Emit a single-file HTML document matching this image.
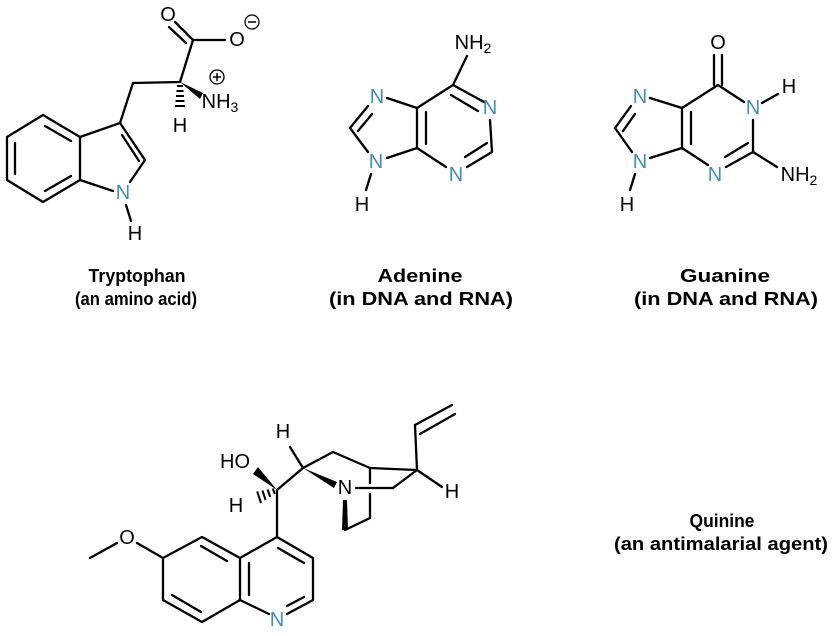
<!DOCTYPE html>
<html><head><meta charset="utf-8"><style>
html,body{margin:0;padding:0;background:#fff;}
svg{display:block;}
text{font-family:"Liberation Sans",sans-serif;}
.a{font-size:20px;fill:#000;text-anchor:middle;dominant-baseline:central;}
.b{fill:#3f8db5;}
.s{font-size:14px;}
.l{font-size:18px;font-weight:bold;text-anchor:middle;fill:#000;}
</style></head><body>
<svg width="832" height="636" viewBox="0 0 832 636" xmlns="http://www.w3.org/2000/svg">
<g stroke="#000" stroke-width="2.3" fill="none" stroke-linecap="round" stroke-linejoin="round">
<!-- Tryptophan -->
<polyline points="43,115 80,137 80,180 43,202 7,180 7,137 43,115"/>
<line x1="45" y1="126" x2="71" y2="141"/>
<line x1="71" y1="176" x2="45" y2="191"/>
<line x1="15" y1="143" x2="15" y2="174"/>
<line x1="80" y1="137" x2="120" y2="123"/>
<line x1="120" y1="123" x2="145" y2="160"/>
<line x1="122" y1="135" x2="139" y2="161"/>
<line x1="145" y1="160" x2="130" y2="182"/>
<line x1="80" y1="180" x2="113" y2="191"/>
<line x1="126" y1="205" x2="131" y2="221"/>
<line x1="120" y1="123" x2="133" y2="83"/>
<line x1="133" y1="83" x2="180" y2="82"/>
<line x1="180" y1="82" x2="193" y2="40"/>
<line x1="193" y1="40" x2="175" y2="22"/>
<line x1="186" y1="43" x2="169" y2="27"/>
<line x1="193" y1="40" x2="225" y2="40"/>
<!-- Adenine -->
<line x1="453" y1="85" x2="467" y2="56"/>
<polyline points="484,102 453,85 417,108 417,148 446,167"/>
<line x1="451" y1="95" x2="478" y2="111"/>
<line x1="426" y1="112" x2="426" y2="144"/>
<line x1="490" y1="120" x2="492" y2="152"/>
<line x1="492" y1="152" x2="467" y2="167"/>
<line x1="487" y1="143" x2="465" y2="157"/>
<line x1="417" y1="108" x2="387" y2="98"/>
<line x1="417" y1="148" x2="387" y2="158"/>
<line x1="368" y1="106" x2="350" y2="128"/>
<line x1="372" y1="114" x2="358" y2="131"/>
<line x1="350" y1="128" x2="368" y2="152"/>
<line x1="371" y1="174" x2="366" y2="190"/>
<!-- Guanine -->
<line x1="714" y1="85" x2="714" y2="55"/>
<line x1="722" y1="85" x2="722" y2="55"/>
<polyline points="744,102 718,85 682,108 682,148 708,165"/>
<line x1="691" y1="112" x2="691" y2="144"/>
<line x1="753" y1="120" x2="753" y2="152"/>
<line x1="753" y1="152" x2="726" y2="167"/>
<line x1="748" y1="143" x2="725" y2="157"/>
<line x1="753" y1="152" x2="777" y2="167"/>
<line x1="762" y1="103" x2="778" y2="94"/>
<line x1="682" y1="108" x2="650" y2="98"/>
<line x1="682" y1="148" x2="650" y2="158"/>
<line x1="631" y1="106" x2="615" y2="128"/>
<line x1="635" y1="114" x2="623" y2="131"/>
<line x1="615" y1="128" x2="632" y2="152"/>
<line x1="635" y1="174" x2="630" y2="190"/>
<!-- Quinine quinoline -->
<polyline points="277,537 313,558 313,600 287,614"/>
<line x1="269" y1="614" x2="240" y2="600"/>
<line x1="278" y1="548" x2="304" y2="563"/>
<line x1="304" y1="597" x2="287" y2="606"/>
<polyline points="277,537 240,558 240,600 202,622 163,600 163,558 202,537 240,558"/>
<line x1="249" y1="563" x2="249" y2="595"/>
<line x1="201" y1="546" x2="227" y2="561"/>
<line x1="172" y1="595" x2="201" y2="612"/>
<line x1="163" y1="558" x2="137" y2="543"/>
<line x1="117" y1="543" x2="90" y2="558"/>
<line x1="277" y1="537" x2="277" y2="490"/>
<line x1="277" y1="490" x2="303" y2="468"/>
<line x1="303" y1="468" x2="290" y2="447"/>
<line x1="303" y1="468" x2="333" y2="452"/>
<line x1="333" y1="452" x2="370" y2="468"/>
<line x1="370" y1="468" x2="417" y2="470"/>
<line x1="417" y1="470" x2="442" y2="487"/>
<line x1="417" y1="470" x2="415" y2="425"/>
<line x1="415" y1="425" x2="452" y2="405"/>
<line x1="420" y1="434" x2="455" y2="414"/>
<line x1="417" y1="470" x2="393" y2="488"/>
<line x1="356" y1="488" x2="393" y2="488"/>
<line x1="370" y1="468" x2="370" y2="483"/>
<line x1="370" y1="494" x2="370" y2="518"/>
<line x1="370" y1="518" x2="345" y2="530"/>
</g>
<g fill="#000" stroke="none">
<polygon points="180,82 203,93 200,99"/>
<g stroke="#000" stroke-width="2" stroke-linecap="butt">
<line x1="177" y1="86" x2="183" y2="86"/>
<line x1="176.5" y1="91" x2="183.5" y2="91"/>
<line x1="176" y1="96" x2="184" y2="96"/>
<line x1="175.5" y1="101" x2="184.5" y2="101"/>
<line x1="175" y1="106" x2="185" y2="106"/>
<line x1="272.8" y1="488.5" x2="274.8" y2="494"/>
<line x1="267.6" y1="489.5" x2="270.2" y2="497"/>
<line x1="262.4" y1="490.5" x2="265.6" y2="500"/>
<line x1="257.2" y1="491.5" x2="261" y2="503"/>
</g>
<polygon points="277,490 253,474 258,467"/>
<polygon points="303,468 337,482 334,488"/>
<polygon points="343,500 347,500 348,530 342,530"/>
</g>
<!-- atom labels -->
<text class="a b" x="123" y="193">N</text>
<text class="a" x="135" y="234">H</text>
<text class="a" x="168" y="15">O</text>
<text class="a" x="237" y="40">O</text>
<circle cx="252" cy="22" r="7" fill="none" stroke="#000" stroke-width="1.3"/>
<line x1="248" y1="22" x2="256" y2="22" stroke="#000" stroke-width="1.5"/>
<text class="a" x="220" y="102">NH<tspan class="s" dy="5">3</tspan></text>
<circle cx="217" cy="77" r="7" fill="none" stroke="#000" stroke-width="1.3"/>
<line x1="213" y1="77" x2="221" y2="77" stroke="#000" stroke-width="1.5"/>
<line x1="217" y1="73" x2="217" y2="81" stroke="#000" stroke-width="1.5"/>
<text class="a" x="180" y="126">H</text>

<text class="a" x="473" y="43">NH<tspan class="s" dy="5">2</tspan></text>
<text class="a b" x="490" y="108">N</text>
<text class="a b" x="456" y="175">N</text>
<text class="a b" x="377" y="97">N</text>
<text class="a b" x="376" y="162">N</text>
<text class="a" x="362" y="205">H</text>

<text class="a" x="718" y="43">O</text>
<text class="a b" x="753" y="108">N</text>
<text class="a" x="789" y="87">H</text>
<text class="a b" x="715" y="175">N</text>
<text class="a" x="799" y="175">NH<tspan class="s" dy="5">2</tspan></text>
<text class="a b" x="640" y="97">N</text>
<text class="a b" x="640" y="162">N</text>
<text class="a" x="627" y="205">H</text>

<text class="a" x="235" y="462">HO</text>
<text class="a" x="236" y="506">H</text>
<text class="a" x="283" y="432">H</text>
<text class="a" x="345" y="488">N</text>
<text class="a" x="452" y="492">H</text>
<text class="a" x="127" y="538">O</text>
<text class="a b" x="277" y="620">N</text>

<text class="l" x="137" y="282" textLength="97" lengthAdjust="spacingAndGlyphs">Tryptophan</text>
<text class="l" x="136" y="305" textLength="122" lengthAdjust="spacingAndGlyphs">(an amino acid)</text>
<text class="l" x="420" y="282" textLength="85" lengthAdjust="spacingAndGlyphs">Adenine</text>
<text class="l" x="421" y="305" textLength="184" lengthAdjust="spacingAndGlyphs">(in DNA and RNA)</text>
<text class="l" x="725" y="282" textLength="90" lengthAdjust="spacingAndGlyphs">Guanine</text>
<text class="l" x="726" y="305" textLength="184" lengthAdjust="spacingAndGlyphs">(in DNA and RNA)</text>
<text class="l" x="722" y="527" textLength="65" lengthAdjust="spacingAndGlyphs">Quinine</text>
<text class="l" x="721" y="550" textLength="214" lengthAdjust="spacingAndGlyphs">(an antimalarial agent)</text>
</svg>
</body></html>
